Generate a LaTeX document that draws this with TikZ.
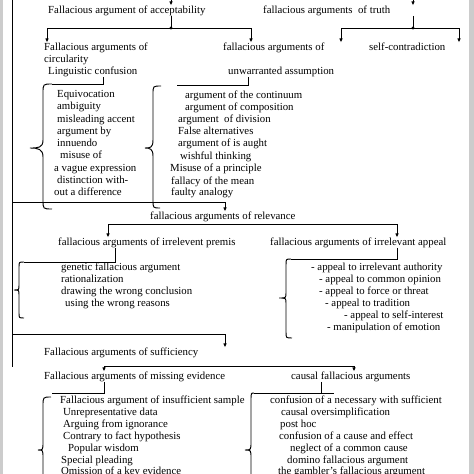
\documentclass[tikz,border=0pt]{standalone}
\usepackage{fontspec}
\setmainfont{Liberation Serif}
\usetikzlibrary{arrows.meta}
\begin{document}
\begin{tikzpicture}[x=1pt,y=-1pt,
  txt/.style={anchor=mid west, inner sep=0pt, font=\fontsize{10.8}{12}\selectfont},
  ln/.style={line width=0.95pt},
  arr/.style={line width=0.95pt,-{Latex[length=4pt,width=3.5pt]}},
  bracepath/.style={line width=0.95pt}]
\useasboundingbox (0,0) rectangle (474,474);
\fill[gray!40] (0,0) rectangle (3,474);
\fill[gray!40] (469,0) rectangle (474,474);

% ---------- top level texts ----------
\node[txt] (acc) at (48,11) {Fallacious argument of acceptability};
\node[txt] (tru) at (263,11) {fallacious arguments\ \ of truth};
\node[txt] (circ) at (44,48) {Fallacious arguments of};
\node[txt] (circb) at (44,60) {circularity};
\node[txt] (unwa) at (223,48) {fallacious arguments of};
\node[txt] (self) at (369,48) {self-contradiction};
\node[txt] (ling) at (48,72) {Linguistic confusion};
\node[txt] (unw) at (228,72) {unwarranted assumption};

% linguistic confusion list
\foreach \t/\x/\y [count=\i] in {Equivocation/57/95, ambiguity/57/107,
  misleading accent/57/120, argument by/57/132, innuendo/57/144,
  misuse of/60/156, a vague expression/54/169, distinction with-/57/181,
  out a difference/54/193}
  \node[txt] (L\i) at (\x,\y) {\t};

% unwarranted assumption list
\foreach \t/\x/\y [count=\i] in {argument of the continuum/185/96,
  argument of composition/185/108, argument\ \ of division/178/120,
  False alternatives/178/132, argument of is aught/178/144,
  wishful thinking/180/157, Misuse of a principle/170/169,
  fallacy of the mean/171/182, faulty analogy/171/193}
  \node[txt] (U\i) at (\x,\y) {\t};

% relevance
\node[txt] (rel) at (150,217) {fallacious arguments of relevance};
\node[txt] (prem) at (58,243) {fallacious arguments of irrelevent premis};
\node[txt] (appl) at (270,243) {fallacious arguments of irrelevant appeal};

\foreach \t/\x/\y [count=\i] in {genetic fallacious argument/61/268,
  rationalization/61/280, drawing the wrong conclusion/61/292,
  using the wrong reasons/65/304}
  \node[txt] (G\i) at (\x,\y) {\t};

\foreach \t/\x/\y [count=\i] in {- appeal to irrelevant authority/311/268,
  - appeal to common opinion/319/280, - appeal to force or threat/319/292,
  - appeal to tradition/325/304, - appeal to self-interest/344/316,
  - manipulation of emotion/327/328}
  \node[txt] (A\i) at (\x,\y) {\t};

% sufficiency
\node[txt] (suf) at (44,353) {Fallacious arguments of sufficiency};
\node[txt] (miss) at (44,377) {Fallacious arguments of missing evidence};
\node[txt] (caus) at (291,377) {causal fallacious arguments};

\foreach \t/\x/\y [count=\i] in {Fallacious argument of insufficient sample/60/401,
  Unrepresentative data/63/413, Arguing from ignorance/63/425,
  Contrary to fact hypothesis/63/437, Popular wisdom/68/449,
  Special pleading/61/461, Omission of a key evidence/61/472}
  \node[txt] (S\i) at (\x,\y) {\t};

\foreach \t/\x/\y [count=\i] in {confusion of a necessary with sufficient/270/401,
  causal oversimplification/281/413, post hoc/280/425,
  confusion of a cause and effect/279/437, neglect of a common cause/290/449,
  domino fallacious argument/287/461, the gambler's fallacious argument/278/472}
  \node[txt] (C\i) at (\x,\y) {\t};

% ---------- connectors ----------
\coordinate (v0) at (12,0);
\coordinate (v1) at (12,367);
\draw[ln] (v0) -- (v1);

% acceptability
\coordinate (inA) at (171,-4);
\coordinate (jA) at (171,28);
\coordinate (jAl) at (47,28);
\coordinate (jAr) at (251,28);
\draw[arr] (inA) -- (inA |- acc.north);
\draw[ln] (inA |- acc.south) -- (jA);
\fill (jA) circle (1.6);
\draw[ln] (jAl) -- (jAr);
\draw[arr] (jAl) -- (jAl |- circ.north);
\draw[arr] (jAr) -- (jAr |- unwa.north);

% truth
\coordinate (inB) at (413,-4);
\coordinate (jB) at (413,28);
\coordinate (jBl) at (341,28);
\coordinate (jBr) at (459,28);
\draw[arr] (inB) -- (inB |- tru.north);
\draw[ln] (inB |- tru.south) -- (jB);
\fill (jB) circle (1.6);
\draw[ln] (jBl) -- (jBr);
\draw[arr] (jBl) -- (jBl |- self.north);
\draw[arr] (jBr) -- (jBr |- self.north);

% linguistic confusion brace
\coordinate (lA) at (103,84);
\coordinate (b1t) at (52,84);
\draw[ln] (lA |- ling.south) -- (lA) -- (b1t);
\draw[bracepath] (b1t) .. controls (43,84) .. (43,93) -- (43,140)
  .. controls (43,148) and (38,148) .. (30,148)
  .. controls (38,148) and (43,149) .. (43,157) -- (43,200)
  .. controls (43,209) .. (52,209);

% unwarranted assumption brace
\coordinate (uA) at (248,85);
\coordinate (uL) at (177,85);
\draw[ln] (uA |- unw.south) -- (uA) -- (uL);
\draw[bracepath] (161,86) .. controls (153,86) .. (153,94) -- (153,140)
  .. controls (153,148) and (150,148) .. (145,148)
  .. controls (150,148) and (153,149) .. (153,156) -- (153,200)
  .. controls (153,208) .. (160,208);

% relevance
\coordinate (r0) at (12,202);
\coordinate (r1) at (225,202);
\draw[ln] (r0) -- (r1);
\draw[arr] (r1) -- (r1 |- rel.north);
\coordinate (s1) at (108,224);
\coordinate (s2) at (397,224);
\draw[ln] (s1) -- (s2);
\draw[arr] (s1) -- (s1 |- prem.north);
\draw[arr] (s2) -- (s2 |- appl.north);

% premis brace
\coordinate (pA) at (115,262);
\coordinate (pL) at (24,262);
\draw[ln] (pA |- prem.south) -- (pA) -- (pL);
\draw[bracepath] (pL) .. controls (19,262) .. (19,267) -- (19,285)
  .. controls (19,290) .. (14,290)
  .. controls (19,290) .. (19,295) -- (19,313)
  .. controls (19,318) .. (24,318);

% appeal brace
\coordinate (aA) at (397,259);
\coordinate (aL) at (291,259);
\draw[ln] (aA |- appl.south) -- (aA) -- (aL);
\draw[bracepath] (aL) .. controls (286,259) .. (286,265) -- (286,293)
  .. controls (286,298) .. (279,298)
  .. controls (286,298) .. (286,303) -- (286,332)
  .. controls (286,338) .. (292,338);

% sufficiency
\coordinate (q0) at (12,334);
\coordinate (q1) at (225,334);
\draw[ln] (q0) -- (q1);
\draw[arr] (q1) -- (q1 |- suf.north);
\coordinate (m1) at (104,366);
\coordinate (m2) at (354,366);
\draw[ln] (m1) -- (m2);
\draw[arr] (m1) -- (m1 |- miss.north);
\draw[arr] (m2) -- (m2 |- caus.north);

% missing evidence brace
\coordinate (mA) at (104,393);
\coordinate (mL) at (52,393);
\draw[ln] (mA |- miss.south) -- (mA) -- (mL);
\draw[bracepath] (51,397) .. controls (43,397) .. (43,406) -- (43,442)
  .. controls (43,450) .. (38,450)
  .. controls (43,450) .. (43,458) -- (43,496)
  .. controls (43,504) .. (51,504);

% causal brace
\coordinate (cA) at (321,393);
\coordinate (cL) at (254,393);
\coordinate (cR) at (334,393);
\draw[ln] (cA |- caus.south) -- (cA);
\draw[ln] (cL) -- (cR);
\draw[bracepath] (cL) .. controls (251,393) .. (251,401) -- (251,442)
  .. controls (251,450) .. (245,450)
  .. controls (251,450) .. (251,458) -- (251,498)
  .. controls (251,506) .. (256,506);
\end{tikzpicture}
\end{document}
